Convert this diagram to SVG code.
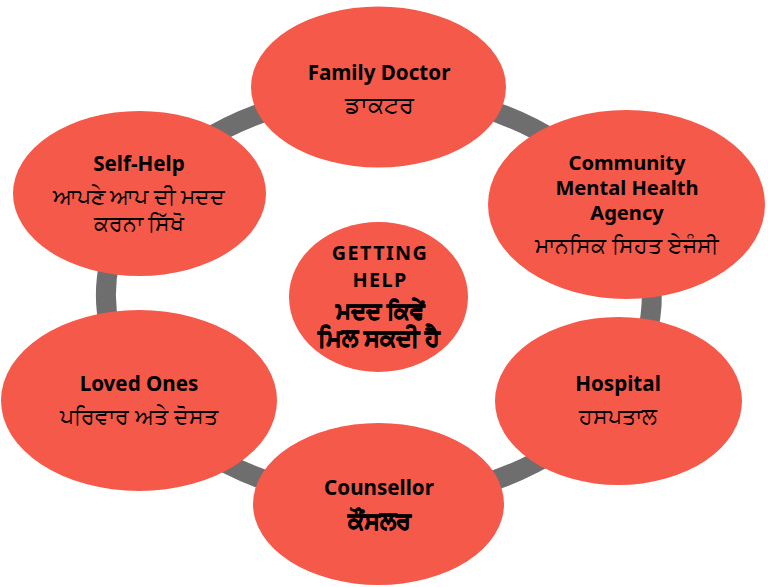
<svg xmlns="http://www.w3.org/2000/svg" width="768" height="587" viewBox="0 0 768 587">
<style>
.n{fill:#f4594a}
.c{fill:none;stroke:#6e6e6e;stroke-width:20}
text{font-family:"Noto Sans","Open Sans","Liberation Sans",sans-serif;text-anchor:middle;fill:#000}
.e{font-size:20.6px;font-weight:700}
.m{font-size:20.1px;font-weight:700}
.h{font-size:19.8px;font-weight:700;letter-spacing:1.4px}
.p{font-size:22.4px;font-weight:400}
.b{font-weight:700;stroke:#000;stroke-width:.5}
</style>
<rect width="768" height="587" fill="#fff"/>
<g id="connectors">
<path class="c" d="M200 143A273 203 0 0 1 280 107"/>
<path class="c" d="M480 107A273 203 0 0 1 560 144"/>
<path class="c" d="M651 280A273 203 0 0 1 648 330"/>
<path class="c" d="M560 448A273 203 0 0 1 480 485"/>
<path class="c" d="M280 485A273 203 0 0 1 200 448"/>
<path class="c" d="M110 330A273 203 0 0 1 110 260"/>
</g>
<g id="family-doctor"><ellipse class="n" cx="378.500" cy="87" rx="127.500" ry="80.500"/>
<text class="e" x="379" y="80">Family Doctor</text><text class="p" x="379" y="113" style="font-size:23.5px">ਡਾਕਟਰ</text></g>
<g id="community-agency"><ellipse class="n" cx="626.500" cy="204.500" rx="138.500" ry="94.500"/>
<text class="m" x="627" y="170">Community</text><text class="m" x="627" y="195">Mental Health</text><text class="m" x="627" y="220">Agency</text><text class="p" x="627" y="253">ਮਾਨਸਿਕ ਸਿਹਤ ਏਜੰਸੀ</text></g>
<g id="self-help"><ellipse class="n" cx="139.500" cy="193.500" rx="126.500" ry="82.500"/>
<text class="e" x="139" y="171">Self-Help</text><text class="p" x="139" y="204" style="font-size:21.5px">ਆਪਣੇ ਆਪ ਦੀ ਮਦਦ</text><text class="p" x="139" y="231">ਕਰਨਾ ਸਿੱਖੋ</text></g>
<g id="getting-help"><ellipse class="n" cx="378.500" cy="297" rx="89.500" ry="75"/>
<text class="h" x="380" y="260">GETTING</text><text class="h" x="380" y="287">HELP</text><text class="p b" x="380" y="319" style="font-size:23.2px">ਮਦਦ ਕਿਵੇਂ</text><text class="p b" x="379" y="346" style="font-size:23.6px">ਮਿਲ ਸਕਦੀ ਹੈ</text></g>
<g id="hospital"><ellipse class="n" cx="618.500" cy="401" rx="123.500" ry="84"/>
<text class="e" x="618" y="391">Hospital</text><text class="p" x="618" y="424">ਹਸਪਤਾਲ</text></g>
<g id="loved-ones"><ellipse class="n" cx="139" cy="400.500" rx="138" ry="90.500"/>
<text class="e" x="139" y="391">Loved Ones</text><text class="p" x="139" y="424">ਪਰਿਵਾਰ ਅਤੇ ਦੋਸਤ</text></g>
<g id="counsellor"><ellipse class="n" cx="378.500" cy="504" rx="125.500" ry="81"/>
<text class="e" x="379" y="495">Counsellor</text><text class="p b" x="379" y="529" style="font-size:24px">ਕੌਂਸਲਰ</text></g>
</svg>
